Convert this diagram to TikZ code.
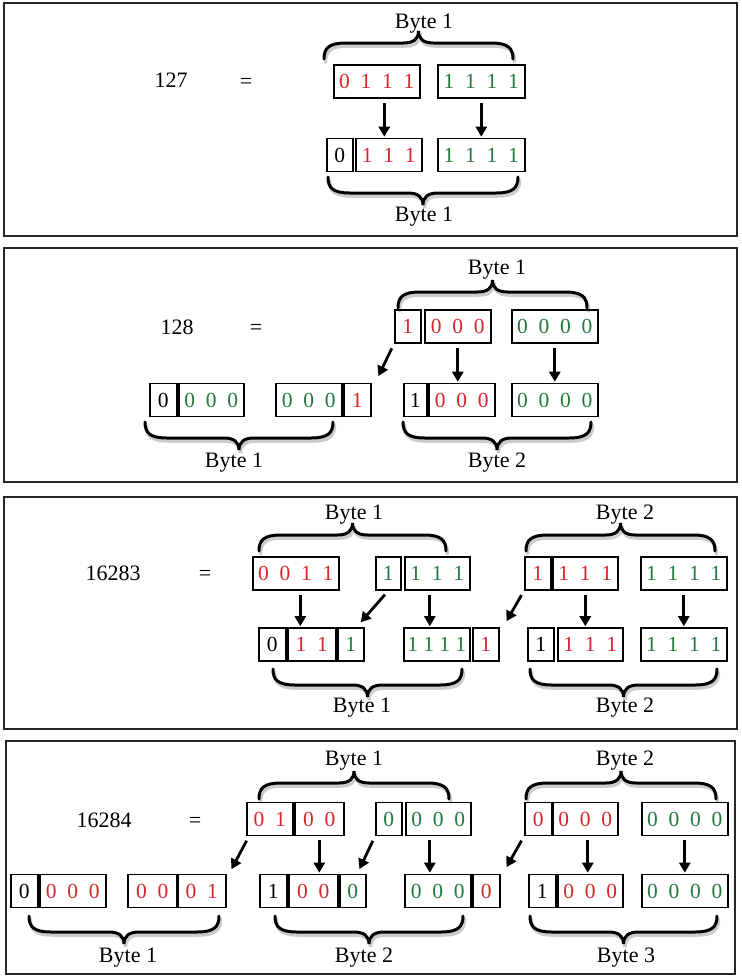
\documentclass[tikz,border=0pt]{standalone}
\usepackage{fontspec}
\setmainfont{Liberation Serif}
\usetikzlibrary{arrows.meta}
\definecolor{mred}{RGB}{214,38,44}
\definecolor{mgreen}{RGB}{34,122,62}
\newlength\dgw
\setlength\dgw{21.5pt}
\newcommand\dg[1]{\makebox[\dgw]{#1}}
\newcommand\hbrace[4]{%
 \pgfmathsetmacro\bmid{(#1+#2)/2}%
 \pgfmathsetmacro\bxa{#1+5}\pgfmathsetmacro\bxb{#1+22}%
 \pgfmathsetmacro\bxc{\bmid-15}\pgfmathsetmacro\bxd{\bmid-5}%
 \pgfmathsetmacro\bxe{\bmid+5}\pgfmathsetmacro\bxf{\bmid+15}%
 \pgfmathsetmacro\bxg{#2-22}\pgfmathsetmacro\bxh{#2-5}%
 \pgfmathsetmacro\bya{#3+16*(#4)}\pgfmathsetmacro\byb{#3+5*(#4)}%
 \pgfmathsetmacro\byc{#3-4*(#4)}\pgfmathsetmacro\byt{#3-12*(#4)}%
 \draw[brs, shift={(1.5,3)}] (#1,\bya) .. controls (#1,\byb) and (\bxa,#3) .. (\bxb,#3) -- (\bxc,#3) .. controls (\bxd,#3) and (\bmid,\byc) .. (\bmid,\byt) .. controls (\bmid,\byc) and (\bxe,#3) .. (\bxf,#3) -- (\bxg,#3) .. controls (\bxh,#3) and (#2,\byb) .. (#2,\bya);
 \draw[brc] (#1,\bya) .. controls (#1,\byb) and (\bxa,#3) .. (\bxb,#3) -- (\bxc,#3) .. controls (\bxd,#3) and (\bmid,\byc) .. (\bmid,\byt) .. controls (\bmid,\byc) and (\bxe,#3) .. (\bxf,#3) -- (\bxg,#3) .. controls (\bxh,#3) and (#2,\byb) .. (#2,\bya);
}
\newcommand\darr[3][0]{\coordinate (dtmp) at ([xshift=#1pt]#2.south); \draw[arr, shorten <=4pt] (dtmp) -- (dtmp |- #3.north);}
\begin{document}
\begin{tikzpicture}[x=1pt,y=-1pt,
 bit/.style={draw=black, line width=1.6pt, inner sep=0pt, minimum height=33pt, anchor=west, font=\fontsize{21.5}{21.5}\selectfont},
 rb/.style={bit,text=mred}, gb/.style={bit,text=mgreen}, kb/.style={bit,text=black},
 lbl/.style={font=\fontsize{22}{22}\selectfont, inner sep=0pt, anchor=base},
 frm/.style={draw=black!85, line width=1.6pt},
 brc/.style={line width=3pt, line cap=round, draw=black},
 brs/.style={line width=3.5pt, line cap=round, draw=black!20},
 arr/.style={line width=2.8pt, -{Triangle[length=10pt,width=11pt]}, shorten >=1pt}]
\useasboundingbox (0,0) rectangle (742,978);
\fill[white] (0,0) rectangle (742,978);
% frames
\draw[frm] (4,3) rectangle (737,236);
\draw[frm] (4,248) rectangle (737,482);
\draw[frm] (4,497) rectangle (737,729);
\draw[frm] (6,741) rectangle (735,974);

% ===== Panel 1 =====
\node[lbl] (l1a) at (424,28.3) {Byte 1};
\node[lbl] (n127) at (171,87.5) {127};
\node[lbl] (e1) at (246,88) {=};
\node[lbl] (l1b) at (424,221) {Byte 1};
\hbrace{324}{513}{43}{1}
\hbrace{328}{518}{193}{-1}
\node[rb, minimum width=86pt] (p1a) at (333,81.5) {\dg0\dg1\dg1\dg1};
\node[gb, minimum width=87pt] (p1b) at (437,81.5) {\dg1\dg1\dg1\dg1};
\node[kb, minimum width=26pt] (p1c) at (326,155) {0};
\node[rb, minimum width=66pt] (p1d) at (355,155) {\dg1\dg1\dg1};
\node[gb, minimum width=87pt] (p1e) at (437,155) {\dg1\dg1\dg1\dg1};
\darr[7.5]{p1a}{p1d}
\darr{p1b}{p1e}

% ===== Panel 2 =====
\node[lbl] (l2a) at (497,274) {Byte 1};
\node[lbl] (n128) at (177,334) {128};
\node[lbl] (e2) at (256,334) {=};
\node[lbl] (l2b) at (234,467) {Byte 1};
\node[lbl] (l2c) at (497,467) {Byte 2};
\hbrace{398}{587}{292}{1}
\hbrace{145}{333}{438}{-1}
\hbrace{403}{591}{438}{-1}
\node[rb, minimum width=26pt] (p2a) at (394,326.5) {1};
\node[rb, minimum width=66pt] (p2b) at (424,326.5) {\dg0\dg0\dg0};
\node[gb, minimum width=86pt] (p2c) at (511,326.5) {\dg0\dg0\dg0\dg0};
\node[kb, minimum width=27pt] (p2d) at (149,400) {0};
\node[gb, minimum width=65pt] (p2e) at (178,400) {\dg0\dg0\dg0};
\node[gb, minimum width=66pt] (p2f) at (275,400) {\dg0\dg0\dg0};
\node[rb, minimum width=27pt] (p2g) at (343,400) {1};
\node[kb, minimum width=23pt] (p2h) at (403,400) {1};
\node[rb, minimum width=66pt] (p2i) at (428,400) {\dg0\dg0\dg0};
\node[gb, minimum width=86pt] (p2j) at (511,400) {\dg0\dg0\dg0\dg0};
\coordinate (t2a) at (378,377);
\draw[arr, shorten <=5pt] (p2a.south west) -- (t2a);
\darr{p2b}{p2i}
\darr{p2c}{p2j}

% ===== Panel 3 =====
\node[lbl] (l3a) at (354,519) {Byte 1};
\node[lbl] (l3b) at (625,519) {Byte 2};
\node[lbl] (n16283) at (113,580) {16283};
\node[lbl] (e3) at (205,580) {=};
\node[lbl] (l3c) at (362,712) {Byte 1};
\node[lbl] (l3d) at (625,712) {Byte 2};
\hbrace{259}{446}{535}{1}
\hbrace{526}{715}{535}{1}
\hbrace{273}{462}{685}{-1}
\hbrace{530}{717}{685}{-1}
\node[rb, minimum width=85pt] (p3a) at (252,573.5) {\dg0\dg0\dg1\dg1};
\node[gb, minimum width=25pt] (p3b) at (375,573.5) {1};
\node[gb, minimum width=65pt] (p3c) at (404,573.5) {\dg1\dg1\dg1};
\node[rb, minimum width=26pt] (p3d) at (524,573.5) {1};
\node[rb, minimum width=65pt] (p3e) at (552,573.5) {\dg1\dg1\dg1};
\node[gb, minimum width=85pt] (p3f) at (640,573.5) {\dg1\dg1\dg1\dg1};
\node[kb, minimum width=27pt] (p3g) at (258,644.5) {0};
\node[rb, minimum width=48pt] (p3h) at (287,644.5) {\dg1\dg1};
\node[gb, minimum width=26pt] (p3i) at (337,644.5) {1};
\node[gb, minimum width=66pt] (p3j) at (403,644.5) {\setlength\dgw{16pt}\dg1\dg1\dg1\dg1};
\node[rb, minimum width=26pt] (p3k) at (472,644.5) {1};
\node[kb, minimum width=26pt] (p3l) at (527,644.5) {1};
\node[rb, minimum width=65pt] (p3m) at (557,644.5) {\dg1\dg1\dg1};
\node[gb, minimum width=85pt] (p3n) at (640,644.5) {\dg1\dg1\dg1\dg1};
\coordinate (t3a) at (360,623);
\coordinate (t3b) at (506,622);
\darr[4.5]{p3a}{p3h}
\draw[arr, shorten <=5pt] (p3b.south) -- (t3a);
\darr[-7.5]{p3c}{p3j}
\draw[arr, shorten <=5pt] (p3d.south west) -- (t3b);
\darr{p3e}{p3m}
\darr{p3f}{p3n}

% ===== Panel 4 =====
\node[lbl] (l4a) at (354,765) {Byte 1};
\node[lbl] (l4b) at (625,765) {Byte 2};
\node[lbl] (n16284) at (104,827) {16284};
\node[lbl] (e4) at (195,827) {=};
\node[lbl] (l4c) at (128,962) {Byte 1};
\node[lbl] (l4d) at (364,962) {Byte 2};
\node[lbl] (l4e) at (626,962) {Byte 3};
\hbrace{259}{449}{783}{1}
\hbrace{526}{716}{783}{1}
\hbrace{29}{219}{932}{-1}
\hbrace{275}{463}{932}{-1}
\hbrace{530}{717}{932}{-1}
\node[rb, minimum width=46pt] (p4a) at (246,819) {\dg0\dg1};
\node[rb, minimum width=49pt] (p4b) at (294,819) {\dg0\dg0};
\node[gb, minimum width=26pt] (p4c) at (375,819) {0};
\node[gb, minimum width=65pt] (p4d) at (405,819) {\dg0\dg0\dg0};
\node[rb, minimum width=27pt] (p4e) at (524,819) {0};
\node[rb, minimum width=65pt] (p4f) at (552,819) {\dg0\dg0\dg0};
\node[gb, minimum width=86pt] (p4g) at (641,819) {\dg0\dg0\dg0\dg0};
\node[kb, minimum width=27pt] (p4h) at (10,891) {0};
\node[rb, minimum width=66pt] (p4i) at (39,891) {\dg0\dg0\dg0};
\node[rb, minimum width=49pt] (p4j) at (127,891) {\dg0\dg0};
\node[rb, minimum width=48pt] (p4k) at (177,891) {\dg0\dg1};
\node[kb, minimum width=27pt] (p4l) at (259,891) {1};
\node[rb, minimum width=49pt] (p4m) at (288,891) {\dg0\dg0};
\node[gb, minimum width=26pt] (p4n) at (339,891) {0};
\node[gb, minimum width=66pt] (p4o) at (404,891) {\dg0\dg0\dg0};
\node[rb, minimum width=27pt] (p4p) at (472,891) {0};
\node[kb, minimum width=27pt] (p4q) at (528,891) {1};
\node[rb, minimum width=65pt] (p4r) at (557,891) {\dg0\dg0\dg0};
\node[gb, minimum width=86pt] (p4s) at (641,891) {\dg0\dg0\dg0\dg0};
\coordinate (t4a) at (231,870);
\coordinate (t4b) at (359,870);
\coordinate (t4c) at (506,868);
\draw[arr, shorten <=5pt] ([xshift=3pt]p4a.south west) -- (t4a);
\darr{p4b}{p4m}
\draw[arr, shorten <=5pt] (p4c.south west) -- (t4b);
\darr[-8.5]{p4d}{p4o}
\draw[arr, shorten <=5pt] (p4e.south west) -- (t4c);
\darr[2.5]{p4f}{p4r}
\darr{p4g}{p4s}
\end{tikzpicture}
\end{document}
